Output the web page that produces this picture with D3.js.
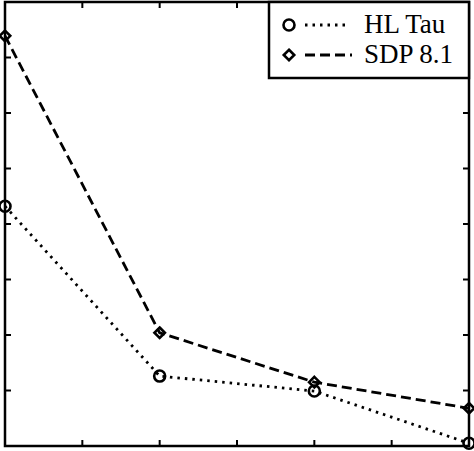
<!DOCTYPE html>
<html>
<head>
<meta charset="utf-8">
<script src="https://cdn.jsdelivr.net/npm/d3@7"></script>
<style>
  body { margin: 0; background: #fff; }
  svg { display: block; }
</style>
</head>
<body>
<svg id="chart" width="474" height="451"></svg>
<script>
// data
const xValues = [1, 2, 3, 4];
const hlTau = [4.32, 1.26, 0.99, 0.05];
const sdp81 = [7.39, 2.04, 1.15, 0.68];
const seriesNames = ["HL Tau", "SDP 8.1"];
const xTicks = [1, 1.5, 2, 2.5, 3, 3.5, 4];
const yTicks = [0, 1, 2, 3, 4, 5, 6, 7, 8];

function drawChart() {
  const svg = d3.select("#chart");
  const left = 5, right = 469, top = 2, bottom = 446;
  const x = d3.scaleLinear().domain([1, 4]).range([left, right]);
  const y = d3.scaleLinear().domain([0, 8]).range([bottom, top]);
  const tick = 6;

  // ticks on all four sides, pointing inward
  const g = svg.append("g").attr("stroke", "#000").attr("stroke-width", 2);
  xTicks.forEach(t => {
    g.append("line").attr("x1", x(t)).attr("x2", x(t)).attr("y1", bottom).attr("y2", bottom - tick);
    g.append("line").attr("x1", x(t)).attr("x2", x(t)).attr("y1", top).attr("y2", top + tick);
  });
  yTicks.forEach(t => {
    g.append("line").attr("y1", y(t)).attr("y2", y(t)).attr("x1", left).attr("x2", left + tick);
    g.append("line").attr("y1", y(t)).attr("y2", y(t)).attr("x1", right).attr("x2", right - tick);
  });

  const line = d3.line().x((d, i) => x(xValues[i])).y(d => y(d));

  svg.append("path").datum(hlTau).attr("d", line)
    .attr("fill", "none").attr("stroke", "#000").attr("stroke-width", 2.8)
    .attr("stroke-dasharray", "2.5,5");
  svg.append("path").datum(sdp81).attr("d", line)
    .attr("fill", "none").attr("stroke", "#000").attr("stroke-width", 2.8)
    .attr("stroke-dasharray", "10,5");

  svg.selectAll(".circ").data(hlTau).enter().append("circle")
    .attr("cx", (d, i) => x(xValues[i])).attr("cy", d => y(d)).attr("r", 5.5)
    .attr("fill", "none").attr("stroke", "#000").attr("stroke-width", 2.6);
  const diamond = d3.symbol().type(d3.symbolDiamond2).size(70);
  svg.selectAll(".diam").data(sdp81).enter().append("path")
    .attr("d", diamond)
    .attr("transform", (d, i) => `translate(${x(xValues[i])},${y(d)})`)
    .attr("fill", "none").attr("stroke", "#000").attr("stroke-width", 2.6);

  // frame
  svg.append("rect").attr("x", left).attr("y", top)
    .attr("width", right - left).attr("height", bottom - top)
    .attr("fill", "none").attr("stroke", "#000").attr("stroke-width", 2.5);

  // legend
  const lg = svg.append("g");
  lg.append("rect").attr("x", 269).attr("y", top).attr("width", right - 269).attr("height", 76)
    .attr("fill", "#fff").attr("stroke", "#000").attr("stroke-width", 2.5);
  const rows = [25, 55];
  lg.append("circle").attr("cx", 289).attr("cy", rows[0]).attr("r", 5.5)
    .attr("fill", "none").attr("stroke", "#000").attr("stroke-width", 2.6);
  lg.append("line").attr("x1", 305).attr("x2", 350).attr("y1", rows[0]).attr("y2", rows[0])
    .attr("stroke", "#000").attr("stroke-width", 2.8).attr("stroke-dasharray", "2.5,5");
  lg.append("path").attr("d", diamond).attr("transform", `translate(289,${rows[1]})`)
    .attr("fill", "none").attr("stroke", "#000").attr("stroke-width", 2.6);
  lg.append("line").attr("x1", 305).attr("x2", 352).attr("y1", rows[1]).attr("y2", rows[1])
    .attr("stroke", "#000").attr("stroke-width", 2.8).attr("stroke-dasharray", "10,5");
  lg.selectAll("text").data(seriesNames).enter().append("text")
    .attr("x", 364).attr("y", (d, i) => rows[i] + 8)
    .attr("font-family", "'Liberation Serif', serif").attr("font-size", 27)
    .text(d => d);
}

drawChart();
</script>
</body>
</html>
